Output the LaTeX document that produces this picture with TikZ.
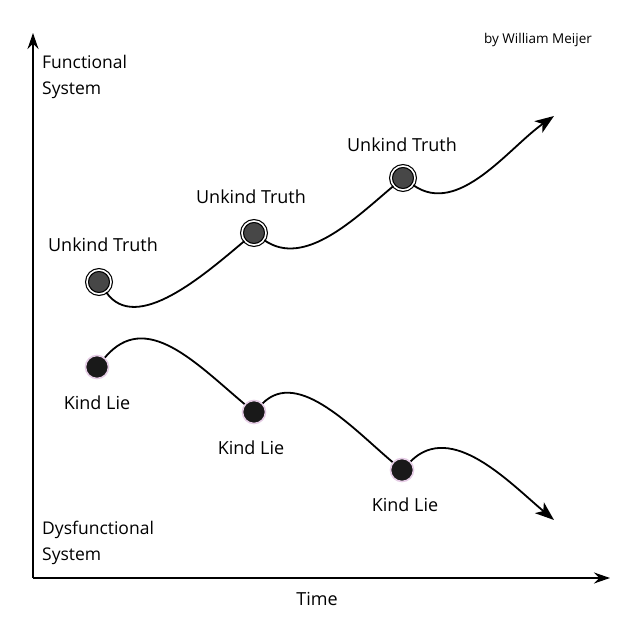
\documentclass[tikz,border=0pt]{standalone}
\usepackage{fontspec}
\setmainfont{Open Sans}
\usetikzlibrary{arrows.meta}
\begin{document}
\begin{tikzpicture}[x=1pt,y=1pt,
  lbl/.style={font=\fontsize{18}{20}\selectfont, inner sep=0pt},
  truthdot/.style={circle, minimum size=24pt, inner sep=0pt, fill=black!72, draw=black, line width=1.2pt,
     double=white, double distance=1.6pt},
  liedot/.style={circle, minimum size=23pt, inner sep=0pt, fill=black!90, draw=violet!20, line width=1.6pt},
  curve/.style={line width=1.8pt, black},
  axis/.style={line width=1.7pt, -{Stealth[length=16pt,width=11pt]}},
  tip/.style={-{Stealth[length=19pt,width=14pt,inset=5pt]}}]
\useasboundingbox (0,0) rectangle (640,640);
% axes
\coordinate (o) at (33,62);
\coordinate (ytop) at (33,607);
\coordinate (xend) at (610,62);
\draw[axis] (o) -- (ytop);
\draw[axis] (o) -- (xend);
% dots
\node[truthdot] (u1) at (99,358) {};
\node[truthdot] (u2) at (254,407) {};
\node[truthdot] (u3) at (403,462) {};
\coordinate (uend) at (554,524);
\node[liedot] (l1) at (97,273) {};
\node[liedot] (l2) at (254,228) {};
\node[liedot] (l3) at (402,170) {};
\coordinate (lend) at (554,120);
% curves
\draw[curve] (u1) to[out=-55,in=220,looseness=0.9] (u2);
\draw[curve] (u2) to[out=-35,in=220,looseness=0.9] (u3);
\draw[curve,tip] (u3) to[out=-35,in=215,looseness=0.9] (uend);
\draw[curve] (l1) to[out=50,in=140,looseness=1.1] (l2);
\draw[curve] (l2) to[out=45,in=140,looseness=0.9] (l3);
\draw[curve,tip] (l3) to[out=45,in=140,looseness=0.95] (lend);
% labels
\node[lbl] (t1) at (103,395) {Unkind Truth};
\node[lbl] (t2) at (251,443) {Unkind Truth};
\node[lbl] (t3) at (402,495) {Unkind Truth};
\node[lbl] (k1) at (97,237) {Kind Lie};
\node[lbl] (k2) at (251,192) {Kind Lie};
\node[lbl] (k3) at (405,135) {Kind Lie};
\node[lbl, anchor=north west, align=left, font=\fontsize{17.5}{26}\selectfont] (fs) at (42,585) {Functional\\System};
\node[lbl, anchor=north west, align=left, font=\fontsize{17.5}{26}\selectfont] (ds) at (42,119) {Dysfunctional\\System};
\node[lbl] (time) at (317,41) {Time};
\node[lbl, font=\fontsize{13.5}{15}\selectfont] (by) at (538,600) {by William Meijer};
\end{tikzpicture}
\end{document}
